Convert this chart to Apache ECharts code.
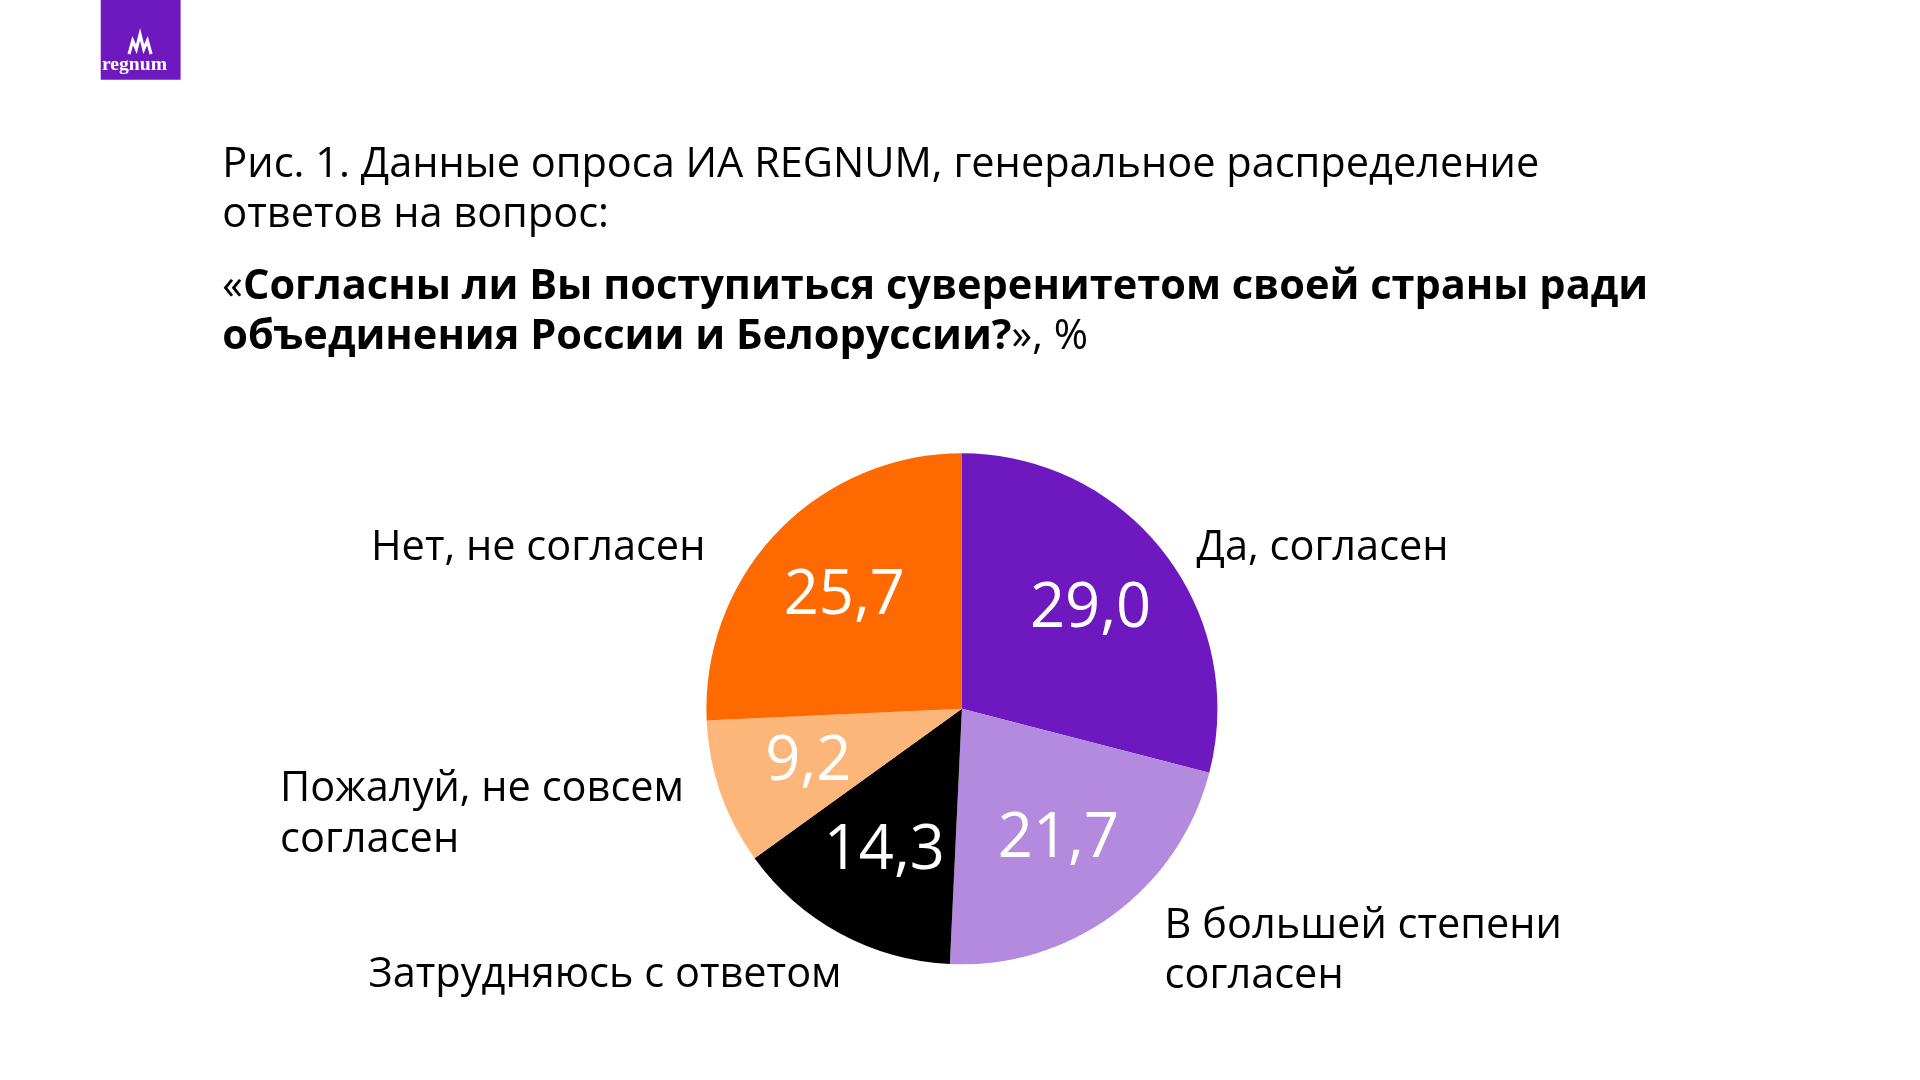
<!DOCTYPE html>
<html><head><meta charset="utf-8">
<script src="https://cdn.jsdelivr.net/npm/echarts@6/dist/echarts.min.js"></script>
<style>html,body{margin:0;padding:0;background:#fff}#c{width:1920px;height:1080px}</style>
</head><body><div id="c"></div>
<script>
const categories = ['Да, согласен','В большей степени согласен','Затрудняюсь с ответом','Пожалуй, не совсем согласен','Нет, не согласен'];
const values = [29.0, 21.7, 14.3, 9.2, 25.7];
const colors = ['#6d19bf','#b48ade','#000000','#fdb67a','#ff6a00'];
const F = '"Open Sans", "Noto Sans", sans-serif';
const s = 1.2285;
const cx = 783*s, cy = 577*s, R = 208*s;
const FS = 33.8;
const data = categories.map((c,i)=>({name:c,value:values[i],itemStyle:{color:colors[i]}}));
const chart = echarts.init(document.getElementById('c'));
function t(x,y,text,size,weight,extra){return Object.assign({type:'text',left:x*s,top:y*s,style:{text:text,font:(weight||'normal')+' '+size*s+'px '+F,fill:'#000',lineHeight:41*s}},extra||{});}
chart.setOption({
  backgroundColor:'#fff',
  animation:false,
  series:[
    {type:'pie',center:[cx,cy],radius:[0,R],startAngle:90,clockwise:true,data:data,label:{show:false},labelLine:{show:false},silent:true},
    {type:'pie',center:[cx,cy],radius:[0,R*1.25],startAngle:90,clockwise:true,silent:true,
     data:values.map((v,i)=>({name:categories[i],value:v,itemStyle:{color:'transparent'}})),
     label:{show:true,position:'inside',formatter:p=>p.value.toFixed(1).replace('.',','),color:'#fff',fontFamily:F,fontSize:50*s},labelLine:{show:false}}
  ],
  graphic:[
    {type:'rect',left:82*s,top:0,shape:{width:65*s,height:65*s},style:{fill:'#6d19bf'}},
    {type:'polyline',shape:{points:[[105*s,44*s],[108*s,33*s],[111*s,40*s],[114*s,28*s],[117*s,40*s],[120*s,33*s],[123*s,44*s]]},style:{stroke:'#fff',lineWidth:2.5*s,fill:null}},
    {type:'text',left:83*s,top:45*s,style:{text:'regnum',font:'bold '+16*s+'px "Liberation Serif", serif',fill:'#fff'}},
    t(181,114,'Рис. 1. Данные опроса ИА REGNUM, генеральное распределение\nответов на вопрос:',FS),
    {type:'text',left:181*s,top:213*s,style:{rich:{b:{font:'bold '+FS*s+'px '+F,fill:'#000'},n:{font:'normal '+FS*s+'px '+F,fill:'#000'}},
      text:'{n|«}{b|Согласны ли Вы поступиться суверенитетом своей страны ради}\n{b|объединения России и Белоруссии?}{n|», %}',lineHeight:41*s}},
    t(974,426,'Да, согласен',FS),
    t(302,426,'Нет, не согласен',FS),
    t(228,622,'Пожалуй, не совсем\nсогласен',FS),
    t(948,733,'В большей степени\nсогласен',FS),
    t(300,773,'Затрудняюсь с ответом',FS)
  ]
});
</script></body></html>
